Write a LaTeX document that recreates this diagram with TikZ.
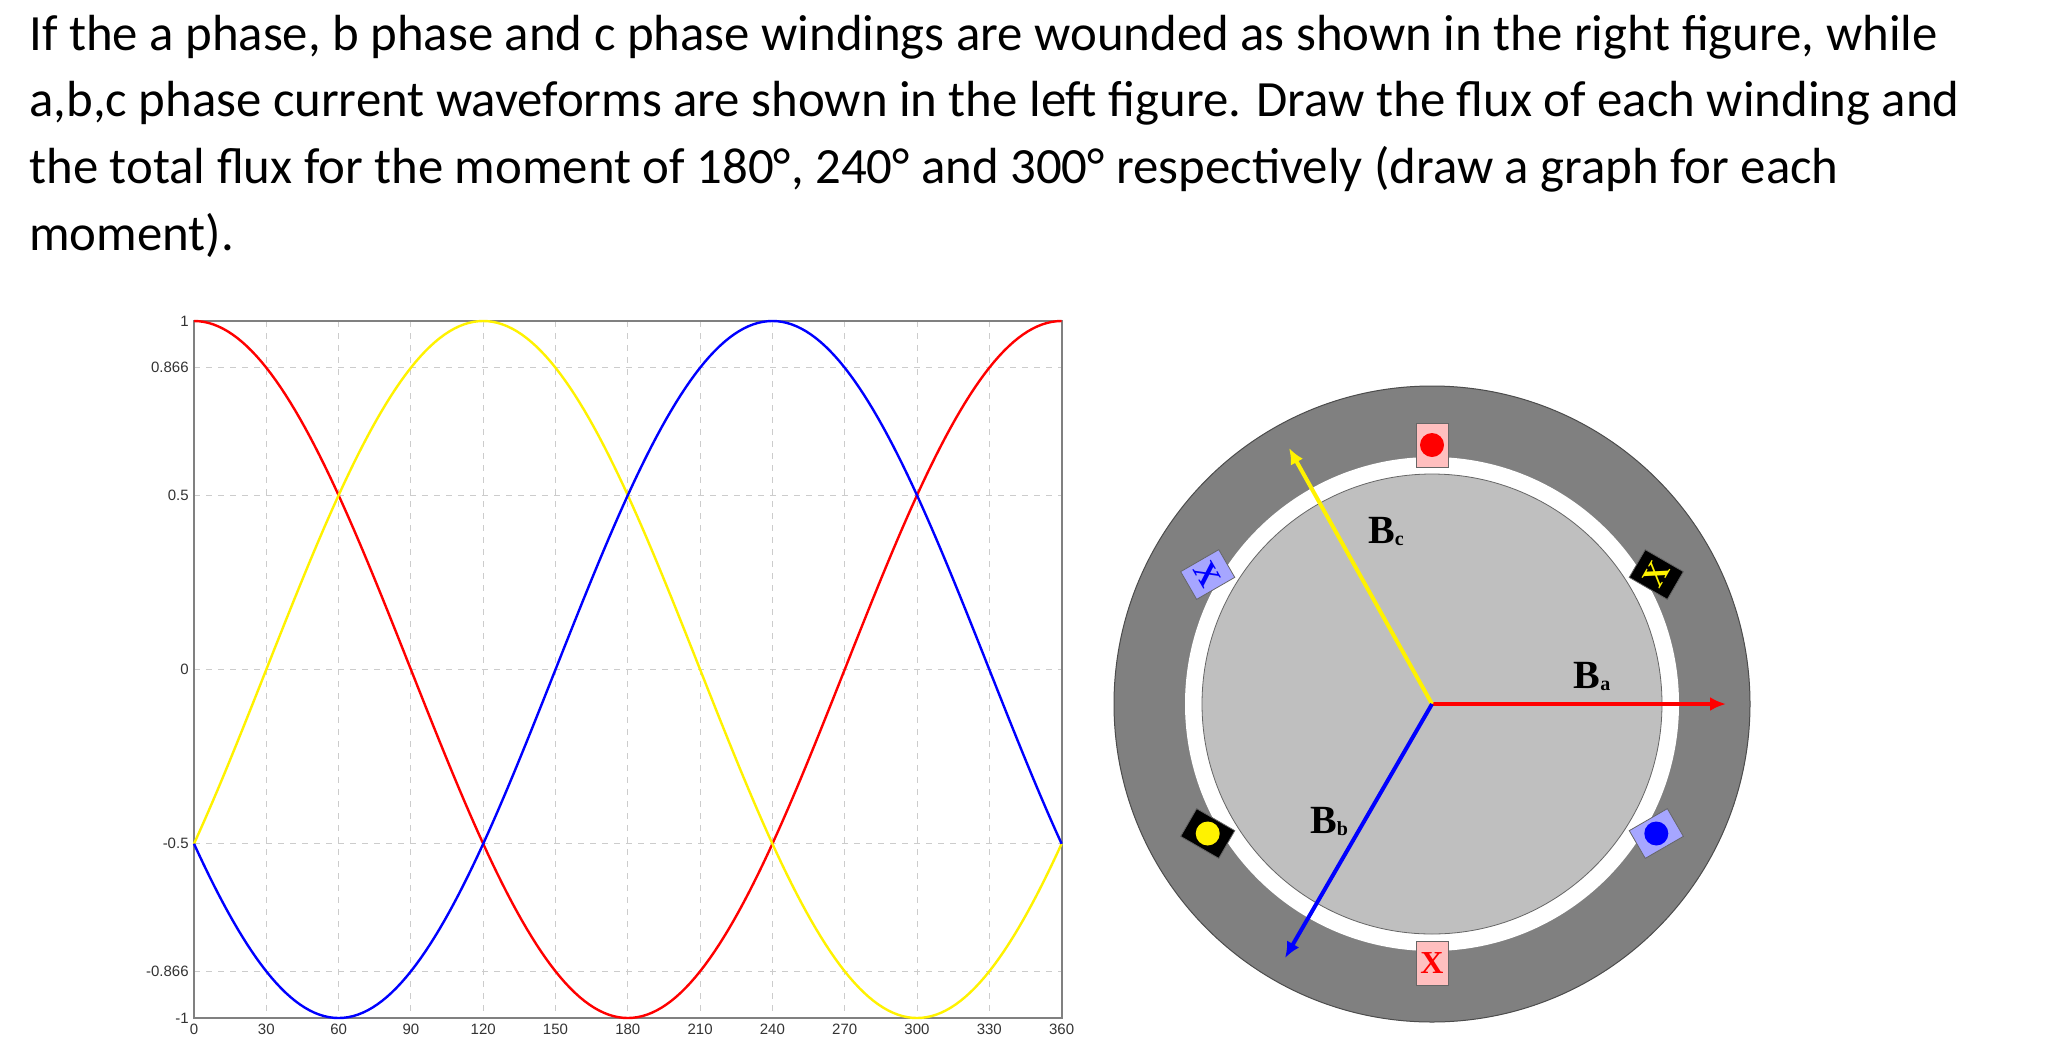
\documentclass[tikz,border=0pt]{standalone}
\usepackage{fontspec}
\usetikzlibrary{arrows.meta,calc}
\setmainfont{Carlito}
\newfontfamily\serifb{Liberation Serif}
\newfontfamily\axf{Liberation Sans}
\begin{document}
\begin{tikzpicture}[x=0.5pt,y=-0.5pt,
  para/.style={anchor=west,inner sep=0,font=\fontsize{25.4pt}{28pt}\selectfont},
  grid/.style={gray!40,dashed,line width=0.5pt},
  tick/.style={font=\axf\fontsize{7.5pt}{8pt}\selectfont,text=black!80,inner sep=1pt},
  wave/.style={line width=1.2pt},
  vec/.style={line width=2pt,-{Latex[length=8pt,width=7pt]}},
  blab/.style={font=\serifb\bfseries\fontsize{20pt}{22pt}\selectfont},
  slot/.style={draw=black!60,line width=0.4pt,minimum width=16pt,minimum height=22pt,inner sep=0},
  ]
\useasboundingbox (0,0) rectangle (2046,1061);
\fill[white] (0,0) rectangle (2046,1061);
% text
\node[para] (l1) at (29,37) {If the a phase, b phase and c phase windings are wounded as shown in the right figure, while};
\node[para] (l2) at (29,103) {a,b,c phase current waveforms are shown in the left figure. Draw the flux of each winding and};
\node[para] (l3) at (29,169) {the total flux for the moment of 180°, 240° and 300° respectively (draw a graph for each};
\node[para] (l4) at (29,235) {moment).};
% plot grid
\foreach \t in {30,60,...,330} \draw[grid] ({194+\t*2.41},321) -- ({194+\t*2.41},1018);
\foreach \v in {0.866,0.5,0,-0.5,-0.866} \draw[grid] (194,{669.5-348.5*\v}) -- (1062,{669.5-348.5*\v});
\draw[gray,line width=0.6pt] (194,321) rectangle (1062,1018);
\foreach \t in {0,30,...,360} \node[tick,anchor=north] (xt\t) at ({194+\t*2.41},1022) {\t};
\foreach \v/\l in {1/1,0.866/0.866,0.5/0.5,0/0,-0.5/-0.5,-0.866/-0.866,-1/-1} \node[tick,anchor=east] (yt\l) at (191,{669.5-348.5*\v}) {\l};
\draw[wave,red] plot[domain=0:360,samples=181] ({194+\x*2.41},{669.5-348.5*cos(\x)});
\draw[wave,yellow] plot[domain=0:360,samples=181] ({194+\x*2.41},{669.5-348.5*cos(\x-120)});
\draw[wave,blue] plot[domain=0:360,samples=181] ({194+\x*2.41},{669.5-348.5*cos(\x-240)});
% machine
\coordinate (O) at (1432,704);
\fill[black!50,draw=black!70,line width=0.5pt] (O) circle (318);
\fill[white] (O) circle (247);
\fill[black!25,draw=black!60,line width=0.4pt] (O) circle (230);
\node[slot,fill=red!25] (s1) at ($(O)+(0,-259)$) {};
\fill[red] (s1) circle (6pt);
\node[slot,fill=red!25] (s2) at ($(O)+(0,259)$) {\serifb\bfseries\color{red}\fontsize{16pt}{16pt}\selectfont X};
\node[slot,fill=black,rotate=60] (s3) at ($(O)+(-30:259)$) {};
\node[rotate=60,font=\serifb\bfseries\fontsize{16pt}{16pt}\selectfont,text=yellow] at (s3) {X};
\node[slot,fill=blue!35,rotate=-60] (s4) at ($(O)+(30:259)$) {};
\fill[blue] (s4) circle (6pt);
\node[slot,fill=black,rotate=60] (s5) at ($(O)+(150:259)$) {};
\fill[yellow] (s5) circle (6pt);
\node[slot,fill=blue!35,rotate=-60] (s6) at ($(O)+(210:259)$) {};
\node[rotate=-60,font=\serifb\bfseries\fontsize{16pt}{16pt}\selectfont,text=blue] at (s6) {X};
\coordinate (ea) at ($(O)+(294,0)$);
\coordinate (ec) at ($(O)+(-143,-256)$);
\coordinate (eb) at ($(O)+(-147,254)$);
\draw[vec,red] (O) -- (ea);
\draw[vec,yellow] (O) -- (ec);
\draw[vec,blue] (O) -- (eb);
\node[blab] (Ba) at (1592,676) {B\raisebox{-1pt}{\fontsize{10pt}{10pt}\selectfont a}};
\node[blab] (Bc) at (1386,531) {B\raisebox{-1pt}{\fontsize{10pt}{10pt}\selectfont c}};
\node[blab] (Bb) at (1329,821) {B\raisebox{-1pt}{\fontsize{10pt}{10pt}\selectfont b}};
\end{tikzpicture}
\end{document}
